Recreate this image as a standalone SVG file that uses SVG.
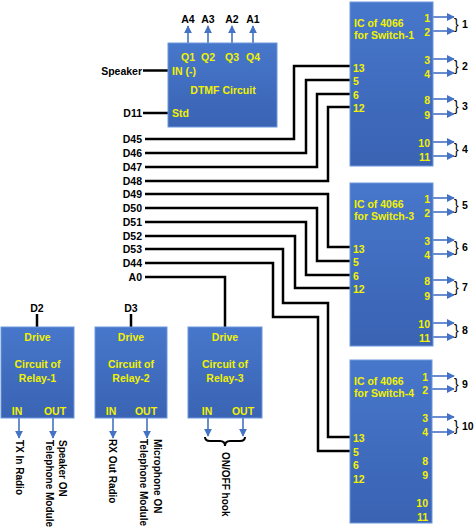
<svg xmlns="http://www.w3.org/2000/svg" width="474" height="531" viewBox="0 0 474 531">
<defs>
<linearGradient id="bg" x1="0" y1="0" x2="0" y2="1">
<stop offset="0" stop-color="#4777CB"/>
<stop offset="1" stop-color="#3A63B3"/>
</linearGradient>
<marker id="ah" viewBox="0 0 10 10" refX="9" refY="5" markerWidth="8" markerHeight="8" markerUnits="userSpaceOnUse" orient="auto">
<path d="M0,0 L10,5 L0,10 z" fill="#4472C4"/>
</marker>
</defs>
<style>
.box{fill:url(#bg);stroke:#6C98DC;stroke-width:1}
.y{font-family:"Liberation Sans",Arial,sans-serif;font-weight:bold;font-size:10.5px;fill:#F2F200}
.k{font-family:"Liberation Sans",Arial,sans-serif;font-weight:bold;font-size:10.5px;fill:#000}
.v{font-family:"Liberation Sans",Arial,sans-serif;font-weight:bold;font-size:10px;fill:#000}
.br{font-family:"Liberation Sans",Arial,sans-serif;font-size:14px;fill:#000}
.w{fill:none;stroke:#000;stroke-width:2.5}
.a{fill:none;stroke:#4472C4;stroke-width:1.6;marker-end:url(#ah)}
.m{text-anchor:middle}
.e{text-anchor:end}
</style>
<rect width="474" height="531" fill="#fff"/>

<g id="connectors">
<path class="w" d="M143,70.5 H168"/>
<path class="w" d="M143,113 H168"/>
<path class="w" d="M145,139 H294 V66 H350"/>
<path class="w" d="M145,153 H306 V80 H350"/>
<path class="w" d="M145,167 H317 V94 H350"/>
<path class="w" d="M145,181 H328 V107 H350"/>
<path class="w" d="M145,194 H328 V247 H350"/>
<path class="w" d="M145,208 H317 V261 H350"/>
<path class="w" d="M145,222 H306 V275 H350"/>
<path class="w" d="M145,236 H295 V288 H350"/>
<path class="w" d="M145,249 H283 V303 H328 V437 H350"/>
<path class="w" d="M145,263 H273 V317 H318 V451 H350"/>
<path class="w" d="M145,277 H225 V327"/>
<path class="w" d="M37,314 V327"/>
<path class="w" d="M131,314 V327"/>
<path class="a" d="M188,43 V26"/>
<path class="a" d="M208,43 V26"/>
<path class="a" d="M232,43 V26"/>
<path class="a" d="M253,43 V26"/>
<path class="a" d="M433,17 H454"/>
<path class="a" d="M433,31 H454"/>
<path class="a" d="M433,59 H454"/>
<path class="a" d="M433,73 H454"/>
<path class="a" d="M433,99 H454"/>
<path class="a" d="M433,114 H454"/>
<path class="a" d="M433,142 H454"/>
<path class="a" d="M433,156 H454"/>
<path class="a" d="M433,198 H454"/>
<path class="a" d="M433,212 H454"/>
<path class="a" d="M433,240 H454"/>
<path class="a" d="M433,254 H454"/>
<path class="a" d="M433,280 H454"/>
<path class="a" d="M433,295 H454"/>
<path class="a" d="M433,323 H454"/>
<path class="a" d="M433,337 H454"/>
<path class="a" d="M432,376 H454"/>
<path class="a" d="M432,389 H454"/>
<path class="a" d="M432,417 H454"/>
<path class="a" d="M432,432 H454"/>
<path class="a" d="M19,418 V438"/>
<path class="a" d="M53,418 V438"/>
<path class="a" d="M113,418 V438"/>
<path class="a" d="M147,418 V438"/>
<path class="a" d="M208,418 V436"/>
<path class="a" d="M243,418 V436"/>
<path d="M205,437 q0,4 5,4 h10 q5,0 5,5 q0,-5 5,-5 h10 q5,0 5,-4" fill="none" stroke="#000" stroke-width="2"/>
</g>

<g id="inputs">
<text class="k e" x="142" y="75">Speaker</text>
<text class="k e" x="142" y="117">D11</text>
<text class="k e" x="142" y="143">D45</text>
<text class="k e" x="142" y="157">D46</text>
<text class="k e" x="142" y="171">D47</text>
<text class="k e" x="142" y="185">D48</text>
<text class="k e" x="142" y="198">D49</text>
<text class="k e" x="142" y="212">D50</text>
<text class="k e" x="142" y="226">D51</text>
<text class="k e" x="142" y="240">D52</text>
<text class="k e" x="142" y="253">D53</text>
<text class="k e" x="142" y="267">D44</text>
<text class="k e" x="142" y="281">A0</text>
<text class="k m" x="188" y="23">A4</text>
<text class="k m" x="208" y="23">A3</text>
<text class="k m" x="232" y="23">A2</text>
<text class="k m" x="253" y="23">A1</text>
<text class="k m" x="37" y="312">D2</text>
<text class="k m" x="131" y="312">D3</text>
</g>

<g id="dtmf">
<rect class="box" x="168" y="43" width="109" height="84"/>
<text class="y m" x="188" y="61">Q1</text>
<text class="y m" x="208" y="61">Q2</text>
<text class="y m" x="232" y="61">Q3</text>
<text class="y m" x="253" y="61">Q4</text>
<text class="y" x="172" y="75">IN (-)</text>
<text class="y m" x="223" y="94">DTMF Circuit</text>
<text class="y" x="172" y="117">Std</text>
</g>

<g id="switch1">
<rect class="box" x="350" y="2" width="83" height="164"/>
<text class="y" x="354" y="27">IC of 4066</text>
<text class="y" x="354" y="39">for Switch-1</text>
<text class="y" x="353" y="72">13</text>
<text class="y" x="353" y="85">5</text>
<text class="y" x="353" y="99">6</text>
<text class="y" x="353" y="112">12</text>
<text class="y e" x="430" y="22">1</text>
<text class="y e" x="430" y="36">2</text>
<text class="y e" x="430" y="64">3</text>
<text class="y e" x="430" y="78">4</text>
<text class="y e" x="430" y="104">8</text>
<text class="y e" x="430" y="119">9</text>
<text class="y e" x="430" y="147">10</text>
<text class="y e" x="430" y="161">11</text>
<text class="br" x="454" y="29">}</text><text class="k" x="462" y="28">1</text>
<text class="br" x="454" y="71">}</text><text class="k" x="462" y="70">2</text>
<text class="br" x="454" y="111">}</text><text class="k" x="462" y="110">3</text>
<text class="br" x="454" y="154">}</text><text class="k" x="462" y="153">4</text>
</g>

<g id="switch3">
<rect class="box" x="350" y="183" width="83" height="163"/>
<text class="y" x="354" y="208">IC of 4066</text>
<text class="y" x="354" y="220">for Switch-3</text>
<text class="y" x="353" y="253">13</text>
<text class="y" x="353" y="266">5</text>
<text class="y" x="353" y="280">6</text>
<text class="y" x="353" y="293">12</text>
<text class="y e" x="430" y="203">1</text>
<text class="y e" x="430" y="217">2</text>
<text class="y e" x="430" y="245">3</text>
<text class="y e" x="430" y="259">4</text>
<text class="y e" x="430" y="285">8</text>
<text class="y e" x="430" y="300">9</text>
<text class="y e" x="430" y="328">10</text>
<text class="y e" x="430" y="342">11</text>
<text class="br" x="454" y="210">}</text><text class="k" x="462" y="209">5</text>
<text class="br" x="454" y="252">}</text><text class="k" x="462" y="251">6</text>
<text class="br" x="454" y="292">}</text><text class="k" x="462" y="291">7</text>
<text class="br" x="454" y="335">}</text><text class="k" x="462" y="334">8</text>
</g>

<g id="switch4">
<rect class="box" x="350" y="360" width="82" height="163"/>
<text class="y" x="354" y="385">IC of 4066</text>
<text class="y" x="354" y="397">for Switch-4</text>
<text class="y" x="353" y="442">13</text>
<text class="y" x="353" y="456">5</text>
<text class="y" x="353" y="469">6</text>
<text class="y" x="353" y="483">12</text>
<text class="y e" x="428" y="381">1</text>
<text class="y e" x="428" y="394">2</text>
<text class="y e" x="428" y="422">3</text>
<text class="y e" x="428" y="436">4</text>
<text class="y e" x="428" y="465">8</text>
<text class="y e" x="428" y="479">9</text>
<text class="y e" x="428" y="507">10</text>
<text class="y e" x="428" y="521">11</text>
<text class="br" x="454" y="389">}</text><text class="k" x="462" y="388">9</text>
<text class="br" x="454" y="431">}</text><text class="k" x="462" y="430">10</text>
</g>

<g id="relay1">
<rect class="box" x="1" y="327" width="73" height="91"/>
<text class="y m" x="37.5" y="341">Drive</text>
<text class="y m" x="37.5" y="368">Circuit of</text>
<text class="y m" x="37.5" y="382">Relay-1</text>
<text class="y m" x="17" y="415">IN</text>
<text class="y m" x="55" y="415">OUT</text>
<text class="v" transform="translate(16,440) rotate(90)">TX In Radio</text>
<text class="v" transform="translate(59,440) rotate(90)">Speaker ON</text>
<text class="v" transform="translate(46,440) rotate(90)">Telephone Module</text>
</g>

<g id="relay2">
<rect class="box" x="95" y="327" width="72" height="91"/>
<text class="y m" x="131" y="341">Drive</text>
<text class="y m" x="131" y="368">Circuit of</text>
<text class="y m" x="131" y="382">Relay-2</text>
<text class="y m" x="111" y="415">IN</text>
<text class="y m" x="146" y="415">OUT</text>
<text class="v" transform="translate(109,439) rotate(90)">RX Out Radio</text>
<text class="v" transform="translate(154,439) rotate(90)">Microphone ON</text>
<text class="v" transform="translate(140,439) rotate(90)">Telephone Module</text>
</g>

<g id="relay3">
<rect class="box" x="188" y="327" width="74" height="91"/>
<text class="y m" x="225" y="341">Drive</text>
<text class="y m" x="225" y="368">Circuit of</text>
<text class="y m" x="225" y="382">Relay-3</text>
<text class="y m" x="207" y="415">IN</text>
<text class="y m" x="243" y="415">OUT</text>
<text class="v" transform="translate(222,452) rotate(90)">ON/OFF hook</text>
</g>
</svg>
